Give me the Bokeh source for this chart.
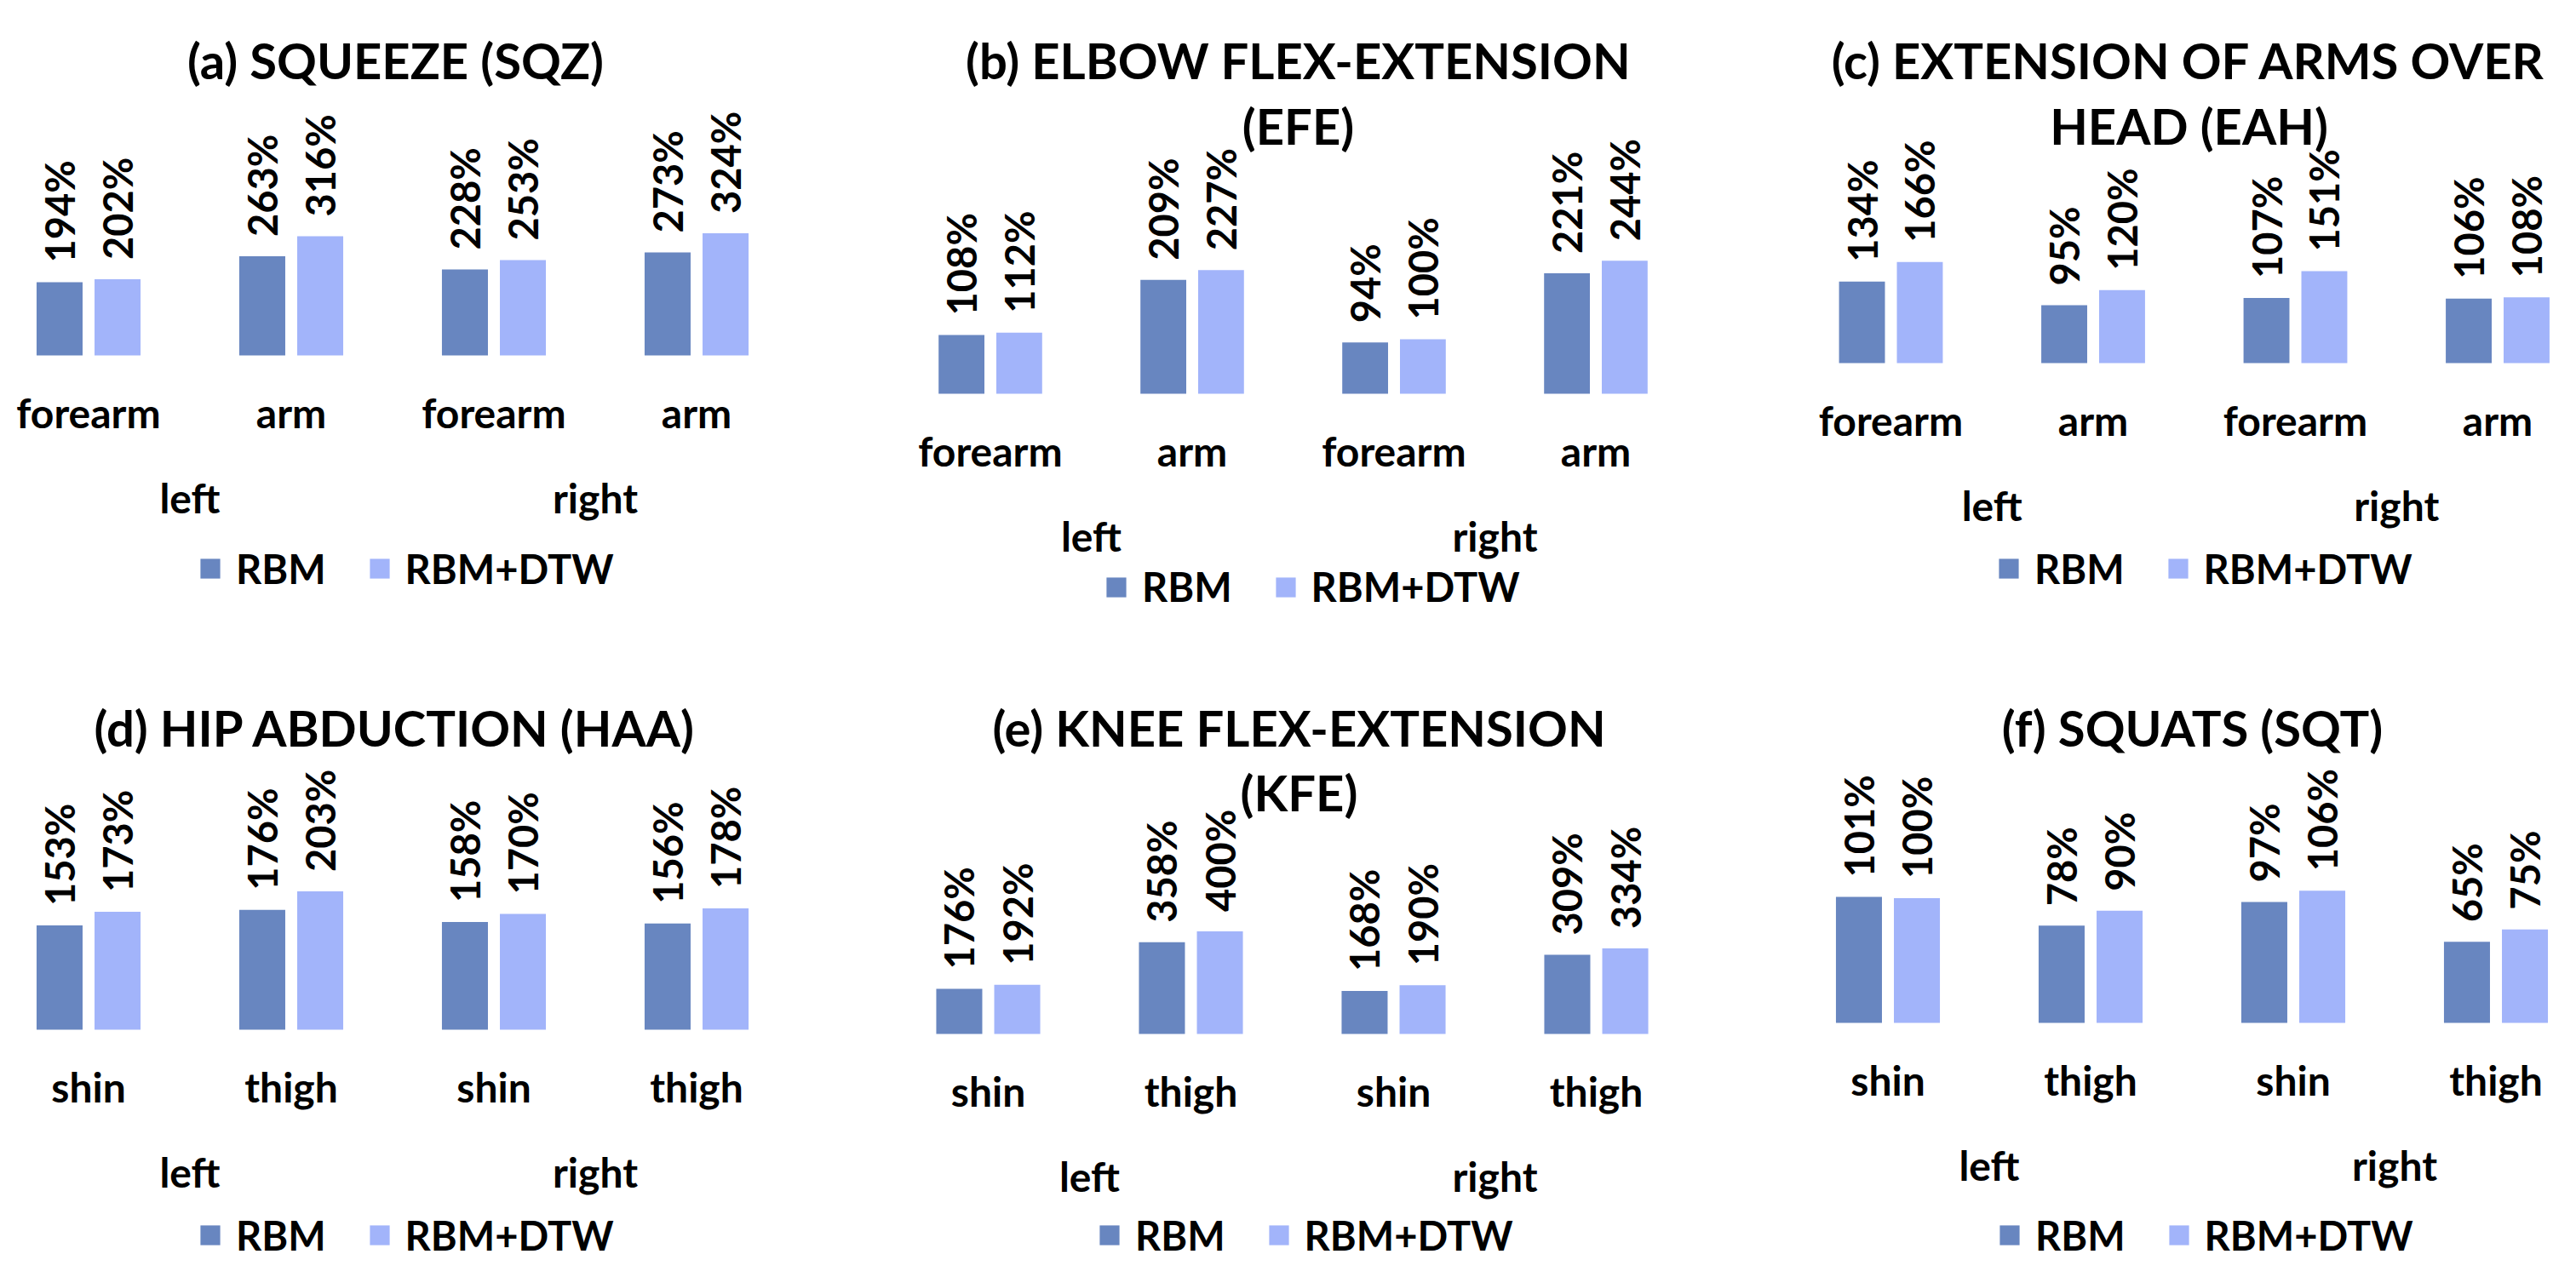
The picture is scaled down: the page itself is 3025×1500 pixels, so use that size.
import math
from bokeh.plotting import figure
from bokeh.models import (ColumnDataSource, Range1d, LabelSet, Label,
                          Legend, LegendItem)
from bokeh.layouts import column, row
from bokeh.transform import dodge
from bokeh.core.properties import value
from bokeh.embed import file_html
from bokeh.resources import INLINE

# ---------------- data ----------------
titles = ["(a) SQUEEZE (SQZ)",
          "(b) ELBOW FLEX-EXTENSION\n(EFE)",
          "(c) EXTENSION OF ARMS OVER\nHEAD (EAH)",
          "(d) HIP ABDUCTION (HAA)",
          "(e) KNEE FLEX-EXTENSION\n(KFE)",
          "(f) SQUATS (SQT)"]
sides = ["left", "right"]
arm_parts = ["forearm", "arm", "forearm", "arm"]
leg_parts = ["shin", "thigh", "shin", "thigh"]
series = ["RBM", "RBM+DTW"]

sqz_rbm = [194, 263, 228, 273]
sqz_dtw = [202, 316, 253, 324]
efe_rbm = [108, 209, 94, 221]
efe_dtw = [112, 227, 100, 244]
eah_rbm = [134, 95, 107, 106]
eah_dtw = [166, 120, 151, 108]
haa_rbm = [153, 176, 158, 156]
haa_dtw = [173, 203, 170, 178]
kfe_rbm = [176, 358, 168, 309]
kfe_dtw = [192, 400, 190, 334]
sqt_rbm = [101, 78, 97, 65]
sqt_dtw = [100, 90, 106, 75]

# ---------------- style / layout ----------------
COLORS = ["#6886C0", "#A2B4FA"]
FONT = "Lato"
TITLE_SIZE = "58px"
VALUE_SIZE = "47px"
CAT_SIZE = "48px"
LEGEND_SIZE = "47px"
OFF = 0.143   # half distance between paired bar centres (category units)
BW = 0.227    # bar width (category units)
PART_DY = 85  # px from bar baseline down to part-label baseline
SIDE_DY = 185 # px from bar baseline down to side-label baseline
LEG_ITEM_H = 56

# page-pixel layout of every panel
LAY = [
    dict(fx=8,    fy=8,   w=1058, h=785, g0=111.5,  pitch=238.0, base=425,  ppp=0.443,
         tl=[78],       tc=472,  ll=240,  lc=675.5),
    dict(fx=1066, fy=8,   w=1058, h=785, g0=1170.5, pitch=237.0, base=470,  ppp=0.640,
         tl=[78, 155],  tc=1532, ll=1304, lc=697),
    dict(fx=2124, fy=8,   w=893,  h=785, g0=2228.0, pitch=237.5, base=434,  ppp=0.715,
         tl=[78, 155],  tc=2578, ll=2352, lc=675.5),
    dict(fx=8,    fy=793, w=1058, h=698, g0=111.5,  pitch=238.0, base=1217, ppp=0.800,
         tl=[862],      tc=472,  ll=240,  lc=1458.5),
    dict(fx=1066, fy=793, w=1058, h=698, g0=1168.0, pitch=238.0, base=1222, ppp=0.301,
         tl=[862, 938], tc=1533, ll=1296, lc=1458.5),
    dict(fx=2124, fy=793, w=893,  h=698, g0=2224.5, pitch=238.0, base=1209, ppp=1.465,
         tl=[862],      tc=2582, ll=2353, lc=1458.5),
]


def make_panel(title, parts, rbm, dtw, L):
    x0 = (L["fx"] - L["g0"]) / L["pitch"]
    x1 = (L["fx"] + L["w"] - L["g0"]) / L["pitch"]
    base_local = L["base"] - L["fy"]
    y1 = base_local / L["ppp"]
    y0 = -(L["h"] - base_local) / L["ppp"]
    p = figure(width=L["w"], height=L["h"], output_backend="svg",
               toolbar_location=None,
               x_range=Range1d(x0, x1), y_range=Range1d(y0, y1),
               min_border=0, min_border_left=0, min_border_right=0,
               min_border_top=0, min_border_bottom=0,
               x_axis_location=None, y_axis_location=None,
               outline_line_color=None,
               background_fill_color="white", border_fill_color="white")
    p.grid.visible = False

    def to_x(px):
        return (px - L["g0"]) / L["pitch"]

    def to_y(px):
        return (L["base"] - px) / L["ppp"]

    # title lines
    for line, bl in zip(title.split("\n"), L["tl"]):
        p.add_layout(Label(x=to_x(L["tc"]), y=to_y(bl), text=line,
                           text_align="center", text_baseline="alphabetic",
                           text_font=FONT, text_font_style="bold",
                           text_font_size=TITLE_SIZE, text_color="black"))

    idx = list(range(len(parts)))
    src = ColumnDataSource(dict(
        x=idx, rbm=rbm, dtw=dtw,
        rbm_lbl=[f"{v}%" for v in rbm],
        dtw_lbl=[f"{v}%" for v in dtw]))

    r1 = p.vbar(x=dodge("x", -OFF), top="rbm", width=BW, bottom=0,
                source=src, fill_color=COLORS[0], line_color=None)
    r2 = p.vbar(x=dodge("x", OFF), top="dtw", width=BW, bottom=0,
                source=src, fill_color=COLORS[1], line_color=None)

    for fld, off in (("rbm", -OFF), ("dtw", OFF)):
        p.add_layout(LabelSet(
            x=dodge("x", off), y=fld, text=fld + "_lbl", source=src,
            angle=math.pi / 2, y_offset=23,
            text_align="left", text_baseline="middle",
            text_font=value(FONT), text_font_style="bold",
            text_font_size=VALUE_SIZE, text_color="black"))

    # category (part) labels
    part_src = ColumnDataSource(dict(x=idx, y=[to_y(L["base"] + PART_DY)] * len(idx), t=parts))
    p.add_layout(LabelSet(x="x", y="y", text="t", source=part_src,
                          text_align="center", text_baseline="alphabetic",
                          text_font=value(FONT), text_font_style="bold",
                          text_font_size=CAT_SIZE, text_color="black"))

    # group (side) labels
    per = len(parts) // len(sides)
    side_pos = [sum(idx[k * per:(k + 1) * per]) / per for k in range(len(sides))]
    side_src = ColumnDataSource(dict(x=side_pos, y=[to_y(L["base"] + SIDE_DY)] * len(sides), t=sides))
    p.add_layout(LabelSet(x="x", y="y", text="t", source=side_src,
                          text_align="center", text_baseline="alphabetic",
                          text_font=value(FONT), text_font_style="bold",
                          text_font_size=CAT_SIZE, text_color="black"))

    # legend
    vx = L["ll"] - L["fx"]
    vy = L["h"] - (L["lc"] - L["fy"] + LEG_ITEM_H / 2)
    legend = Legend(items=[LegendItem(label=series[0], renderers=[r1]),
                           LegendItem(label=series[1], renderers=[r2])],
                    orientation="horizontal", location=(vx, vy),
                    glyph_width=29, glyph_height=29, label_height=29,
                    label_standoff=16, spacing=48, label_text_font=FONT,
                    label_text_font_style="bold", label_text_font_size=LEGEND_SIZE,
                    label_text_color="black",
                    border_line_color=None, background_fill_alpha=0,
                    padding=0, margin=0)
    p.add_layout(legend)
    return p


panels = [
    make_panel(titles[0], arm_parts, sqz_rbm, sqz_dtw, LAY[0]),
    make_panel(titles[1], arm_parts, efe_rbm, efe_dtw, LAY[1]),
    make_panel(titles[2], arm_parts, eah_rbm, eah_dtw, LAY[2]),
    make_panel(titles[3], leg_parts, haa_rbm, haa_dtw, LAY[3]),
    make_panel(titles[4], leg_parts, kfe_rbm, kfe_dtw, LAY[4]),
    make_panel(titles[5], leg_parts, sqt_rbm, sqt_dtw, LAY[5]),
]

layout = column(row(*panels[:3]), row(*panels[3:]))
open("out.html", "w").write(file_html(layout, INLINE))
